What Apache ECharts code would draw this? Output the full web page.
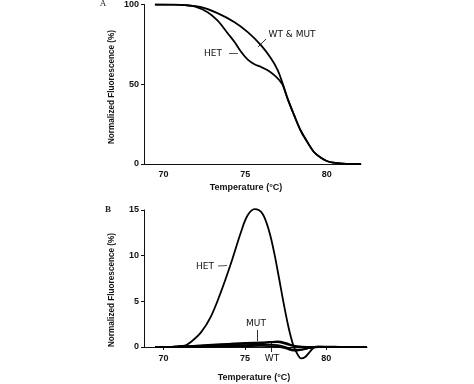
<!DOCTYPE html>
<html>
<head>
<meta charset="utf-8">
<script src="https://cdn.jsdelivr.net/npm/echarts@6/dist/echarts.min.js"></script>
<style>html,body{margin:0;padding:0;background:#fff}#c{width:474px;height:384px}</style>
</head>
<body>
<div id="c"></div>
<script>
// Panel A: normalized melting curves
var tempsA_wt = [69.47, 70.5, 71.3, 72.3, 73.3, 74.35, 75.16, 75.98, 76.6, 77.0, 77.3, 77.6, 78.0, 78.4, 78.8, 79.2, 79.6, 80.0, 80.4, 81.0, 82.1];
var wtmutA   = [100, 99.9, 99.6, 98.3, 94.6, 88.9, 82.7, 74.4, 66, 58.7, 50.4, 41, 30.6, 21, 14, 7.7, 4.2, 1.9, 0.8, 0.2, 0];
var tempsA_het = [69.47, 70.5, 71.3, 71.9, 72.7, 73.3, 73.95, 74.35, 74.76, 75.16, 75.57, 75.98, 76.38, 76.8, 77.1, 77.3, 77.6, 78.0, 78.4, 78.8, 79.2, 79.6, 80.0, 80.4, 81.0, 82.1];
var hetA     = [100, 99.9, 99.6, 98.8, 95.2, 90, 81.7, 76.5, 70.2, 65.4, 62.5, 60.8, 58.75, 55.6, 52.5, 49.6, 41, 30.6, 21, 14, 7.7, 4.2, 1.9, 0.8, 0.2, 0];

// Panel B: difference curves
var tempsB_het = [69.5, 70, 70.5, 70.9, 71.3, 71.7, 72.3, 72.9, 73.5, 74.15, 74.76, 75.16, 75.6, 76.08, 76.5, 76.8, 77.1, 77.4, 77.7, 77.97, 78.2, 78.45, 78.7, 79.0, 79.3, 80, 81, 82, 82.5];
var hetB       = [0, 0, 0.02, 0.1, 0.15, 0.58, 1.6, 3.3, 5.9, 9.2, 12.6, 14.4, 15.1, 14.6, 12.6, 10.3, 7.5, 4.6, 2.0, 0.2, -0.7, -1.25, -1.1, -0.5, 0, 0.05, 0, 0, 0];
var tempsB = [69.5, 70, 71, 72, 73, 74, 75, 76, 76.5, 77, 77.5, 78, 78.5, 79, 79.5, 80, 81, 82, 82.5];
var mutB1  = [0, 0, 0.05, 0.15, 0.25, 0.35, 0.45, 0.5, 0.55, 0.6, 0.45, 0.15, 0.05, 0, 0.05, 0, 0, 0, 0];
var mutB2  = [0, 0, 0.03, 0.1, 0.2, 0.28, 0.35, 0.42, 0.5, 0.55, 0.35, 0.1, 0, 0, 0.03, 0, 0, 0, 0];
var wtB1   = [0, 0, 0, 0.05, 0.1, 0.15, 0.2, 0.25, 0.25, 0.2, 0, -0.3, -0.25, -0.1, 0, 0, 0, 0, 0];
var wtB2   = [0, 0, 0, 0.02, 0.05, 0.08, 0.1, 0.12, 0.1, 0.05, -0.15, -0.4, -0.3, -0.1, 0.02, 0, 0, 0, 0];

var xTicks = [70, 75, 80];
var yTicksA = [0, 50, 100];
var yTicksB = [0, 5, 10, 15];

function zip(xs, ys) { return xs.map(function (x, i) { return [x, ys[i]]; }); }

var tickFont = { fontFamily: 'Liberation Sans', fontWeight: 'bold', fontSize: 9, color: '#111' };
var axLine = { show: true, onZero: false, lineStyle: { color: '#111', width: 1 } };

function line(name, xi, yi, data, clip) {
  return {
    name: name, type: 'line', xAxisIndex: xi, yAxisIndex: yi, data: data,
    showSymbol: false, smooth: 0.35, clip: clip,
    lineStyle: { color: '#000', width: 1.8 }, silent: true
  };
}

var chart = echarts.init(document.getElementById('c'), null, { renderer: 'canvas' });
chart.setOption({
  animation: false,
  backgroundColor: '#fff',
  grid: [
    { left: 144, top: 4, width: 217, height: 160 },
    { left: 144, top: 210, width: 223, height: 137 }
  ],
  xAxis: [
    { type: 'value', gridIndex: 0, min: 68.8, max: 82.1, splitLine: { show: false },
      axisLine: axLine, axisTick: { show: false },
      axisLabel: Object.assign({ customValues: xTicks, margin: 6 }, tickFont) },
    { type: 'value', gridIndex: 1, min: 68.8, max: 82.5, splitLine: { show: false },
      axisLine: axLine, axisTick: { show: true, customValues: xTicks, length: 3, lineStyle: { color: '#111' } },
      axisLabel: Object.assign({ customValues: xTicks, margin: 7 }, tickFont) }
  ],
  yAxis: [
    { type: 'value', gridIndex: 0, min: 0, max: 100, splitLine: { show: false },
      axisLine: axLine, axisTick: { show: true, customValues: yTicksA, length: 3, lineStyle: { color: '#111' } },
      axisLabel: Object.assign({ customValues: yTicksA, margin: 5 }, tickFont) },
    { type: 'value', gridIndex: 1, min: 0, max: 15, splitLine: { show: false },
      axisLine: axLine, axisTick: { show: true, customValues: yTicksB, length: 3, lineStyle: { color: '#111' } },
      axisLabel: Object.assign({ customValues: yTicksB, margin: 5 }, tickFont) }
  ],
  series: [
    line('WT & MUT', 0, 0, zip(tempsA_wt, wtmutA), true),
    line('HET', 0, 0, zip(tempsA_het, hetA), true),
    line('MUT 1', 1, 1, zip(tempsB, mutB1), false),
    line('MUT 2', 1, 1, zip(tempsB, mutB2), false),
    line('WT 1', 1, 1, zip(tempsB, wtB1), false),
    line('WT 2', 1, 1, zip(tempsB, wtB2), false),
    line('HET', 1, 1, zip(tempsB_het, hetB), false)
  ],
  graphic: [
    // panel letters
    { type: 'text', x: 103, y: 4, style: { text: 'A', font: '9px "Liberation Serif"', fill: '#222', align: 'center', verticalAlign: 'middle' } },
    { type: 'text', x: 108, y: 210, style: { text: 'B', font: 'bold 9px "Liberation Serif"', fill: '#222', align: 'center', verticalAlign: 'middle' } },
    // axis titles
    { type: 'text', x: 112, y: 87, rotation: Math.PI / 2, style: { text: 'Normalized Fluorescence (%)', font: 'bold 8.2px "Liberation Sans"', fill: '#111', align: 'center', verticalAlign: 'middle' } },
    { type: 'text', x: 112, y: 290, rotation: Math.PI / 2, style: { text: 'Normalized Fluorescence (%)', font: 'bold 8.2px "Liberation Sans"', fill: '#111', align: 'center', verticalAlign: 'middle' } },
    { type: 'text', x: 246, y: 188, style: { text: 'Temperature (°C)', font: 'bold 9px "Liberation Sans"', fill: '#111', align: 'center', verticalAlign: 'middle' } },
    { type: 'text', x: 254, y: 378, style: { text: 'Temperature (°C)', font: 'bold 9px "Liberation Sans"', fill: '#111', align: 'center', verticalAlign: 'middle' } },
    // annotations panel A
    { type: 'text', x: 292, y: 35, style: { text: 'WT & MUT', font: '9px "DejaVu Sans"', fill: '#111', align: 'center', verticalAlign: 'middle' } },
    { type: 'line', shape: { x1: 258, y1: 47, x2: 266, y2: 39 }, style: { stroke: '#333', lineWidth: 1 } },
    { type: 'text', x: 213, y: 54, style: { text: 'HET', font: '9px "DejaVu Sans"', fill: '#111', align: 'center', verticalAlign: 'middle' } },
    { type: 'line', shape: { x1: 229, y1: 53.5, x2: 238, y2: 53.5 }, style: { stroke: '#555', lineWidth: 1 } },
    // annotations panel B
    { type: 'text', x: 205, y: 267, style: { text: 'HET', font: '9px "DejaVu Sans"', fill: '#111', align: 'center', verticalAlign: 'middle' } },
    { type: 'line', shape: { x1: 218, y1: 266, x2: 227, y2: 265.5 }, style: { stroke: '#555', lineWidth: 1 } },
    { type: 'text', x: 256, y: 324, style: { text: 'MUT', font: '9px "DejaVu Sans"', fill: '#111', align: 'center', verticalAlign: 'middle' } },
    { type: 'line', shape: { x1: 257.5, y1: 330, x2: 257.5, y2: 341 }, style: { stroke: '#333', lineWidth: 1 } },
    { type: 'text', x: 272, y: 359, style: { text: 'WT', font: '9px "DejaVu Sans"', fill: '#111', align: 'center', verticalAlign: 'middle' } },
    { type: 'line', shape: { x1: 271.5, y1: 343, x2: 271.5, y2: 352 }, style: { stroke: '#333', lineWidth: 1 } }
  ]
});
</script>
</body>
</html>
